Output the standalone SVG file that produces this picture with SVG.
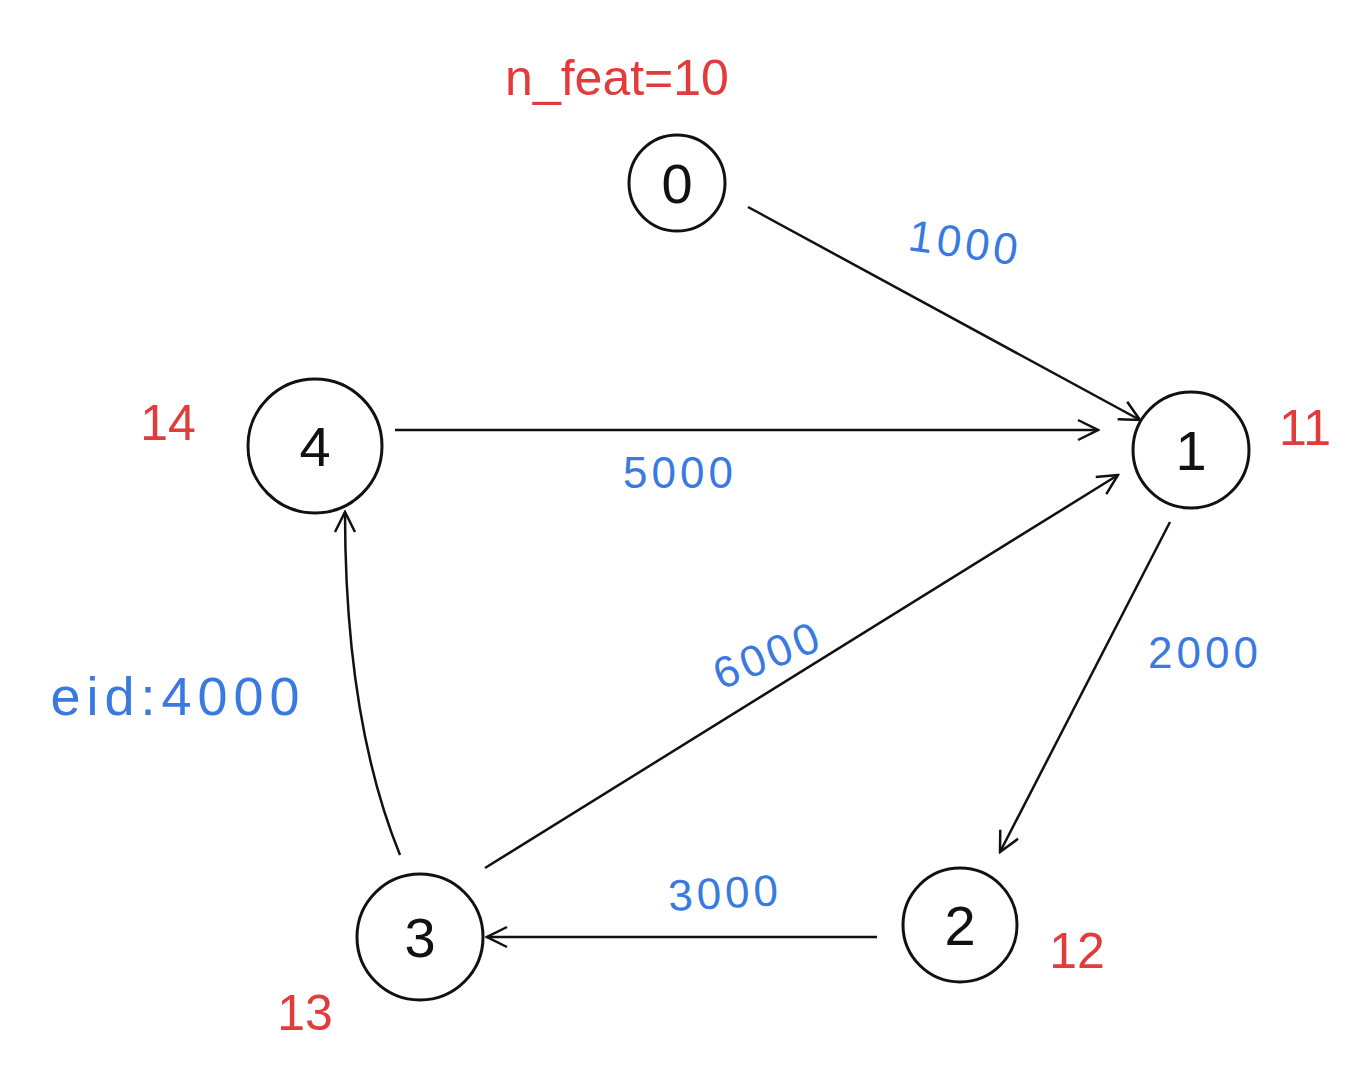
<svg xmlns="http://www.w3.org/2000/svg" width="1365" height="1080" viewBox="0 0 1365 1080">
<style>
.n{fill:none;stroke:#111;stroke-width:3}
.nt{font-family:"Liberation Sans",sans-serif;font-size:56px;font-weight:300;fill:#111;text-anchor:middle}
.e{fill:none;stroke:#111;stroke-width:2.5;marker-end:url(#a)}
.r{font-family:"Liberation Sans",sans-serif;font-size:50px;fill:#e23b3b;text-anchor:middle}
.b{font-family:"Liberation Sans",sans-serif;font-size:44px;fill:#3a7ae0;text-anchor:middle;letter-spacing:4px}
</style>
<defs><marker id="a" viewBox="0 0 24 24" refX="22" refY="12" markerWidth="24" markerHeight="24" markerUnits="userSpaceOnUse" orient="auto"><path d="M2,2 L22,12 L2,22" fill="none" stroke="#111" stroke-width="2.5"/></marker></defs>
<rect width="1365" height="1080" fill="#fff"/>
<g id="edges">
<line class="e" x1="748" y1="207" x2="1140" y2="420"/>
<line class="e" x1="395" y1="430" x2="1098" y2="430"/>
<line class="e" x1="1170" y1="522" x2="1000" y2="852"/>
<line class="e" x1="485" y1="868" x2="1118" y2="475"/>
<line class="e" x1="877" y1="937" x2="487" y2="937"/>
<path class="e" d="M400,855 Q345,720 345,512"/>
</g>
<g id="node0"><circle class="n" cx="677" cy="183" r="48"/><text class="nt" x="677" y="203">0</text></g>
<g id="node1"><circle class="n" cx="1191" cy="450" r="58"/><text class="nt" x="1191" y="470">1</text></g>
<g id="node2"><circle class="n" cx="960" cy="925" r="57"/><text class="nt" x="960" y="945">2</text></g>
<g id="node3"><circle class="n" cx="420" cy="937" r="63"/><text class="nt" x="420" y="957">3</text></g>
<g id="node4"><circle class="n" cx="315" cy="446" r="67"/><text class="nt" x="315" y="466">4</text></g>
<g id="labels">
<text class="r" x="617" y="95">n_feat=10</text>
<text class="r" x="168" y="440">14</text>
<text class="r" x="1305" y="445">11</text>
<text class="r" x="1077" y="968">12</text>
<text class="r" x="305" y="1030">13</text>
<text class="b" x="965" y="258" transform="rotate(8 965 245)">1000</text>
<text class="b" x="680" y="488">5000</text>
<text class="b" x="1205" y="668">2000</text>
<text class="b" x="768" y="670" transform="rotate(-22 768 655)">6000</text>
<text class="b" x="178" y="715" style="font-size:54px;letter-spacing:6px">eid:4000</text>
<text class="b" x="725" y="908" transform="rotate(-3 725 892)">3000</text>
</g>
</svg>
